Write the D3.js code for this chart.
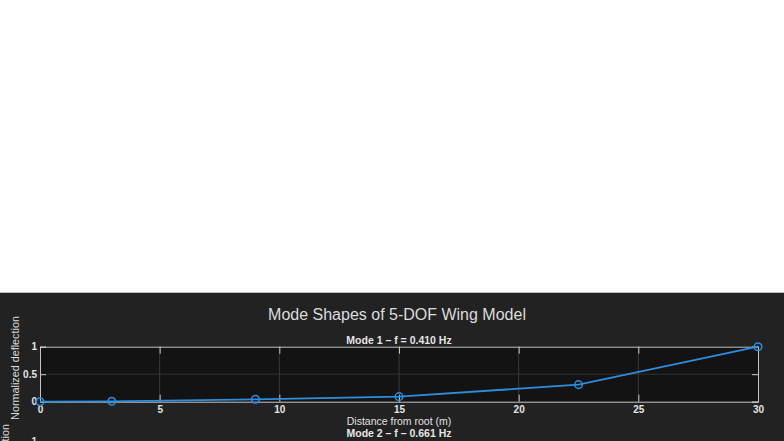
<!DOCTYPE html>
<html>
<head>
<meta charset="utf-8">
<script src="https://cdn.jsdelivr.net/npm/d3@7"></script>
<style>
  html, body { margin: 0; padding: 0; background: #ffffff; }
  svg { display: block; font-family: "Liberation Sans", Arial, sans-serif; }
</style>
</head>
<body>
<svg id="chart" width="784" height="441"></svg>
<script>
// Données
const nodePositions = [0, 3, 9, 15, 22.5, 30];
const mode1Deflection = [0, 0.007, 0.044, 0.092, 0.31, 1];
const xTicks = [0, 5, 10, 15, 20, 25, 30];
const yTicks = [0, 0.5, 1];
const chartTitle = "Mode Shapes of 5-DOF Wing Model";
const mode1Title = "Mode 1 – f = 0.410 Hz";
const mode2Title = "Mode 2 – f – 0.661 Hz";

const svg = d3.select("#chart");
const W = 784, H = 441;
const figTop = 293;

// Fond de la figure (sombre)
svg.append("rect").attr("x", 0).attr("y", figTop - 1).attr("width", W).attr("height", 1).attr("fill", "#bdbdbd");
svg.append("rect").attr("x", 0).attr("y", figTop).attr("width", W).attr("height", H - figTop).attr("fill", "#222222");

const ax = { left: 40, right: 758, top: 346.7, bottom: 401.7 };

const x = d3.scaleLinear().domain([0, 30]).range([ax.left, ax.right]);
const y = d3.scaleLinear().domain([0, 1]).range([ax.bottom, ax.top]);

// Titre général
svg.append("text")
    .attr("x", 397).attr("y", 319.5)
    .attr("text-anchor", "middle")
    .attr("font-size", 16)
    .attr("fill", "#dcdcdc")
    .text(chartTitle);

// Titre du mode 1
svg.append("text")
    .attr("x", 399).attr("y", 343.5)
    .attr("text-anchor", "middle")
    .attr("font-size", 10.5)
    .attr("font-weight", "bold")
    .attr("fill", "#e6e6e6")
    .text(mode1Title);

// Zone du graphique
svg.append("rect")
    .attr("x", ax.left).attr("y", ax.top)
    .attr("width", ax.right - ax.left).attr("height", ax.bottom - ax.top)
    .attr("fill", "#131313");

// Grille
const grid = svg.append("g");
grid.selectAll("line.gx")
    .data(xTicks.slice(1, -1))
    .enter().append("line")
    .attr("x1", d => x(d)).attr("x2", d => x(d))
    .attr("y1", ax.top).attr("y2", ax.bottom)
    .attr("stroke", "#444444").attr("stroke-width", 0.8);
grid.selectAll("line.gy")
    .data(yTicks.slice(1, -1))
    .enter().append("line")
    .attr("x1", ax.left).attr("x2", ax.right)
    .attr("y1", d => y(d)).attr("y2", d => y(d))
    .attr("stroke", "#3a3a3a").attr("stroke-width", 0.8);

// Axes avec graduations vers l'intérieur
const tickColor = "#c8c8c8";
const xAxisBottom = d3.axisBottom(x).tickValues(xTicks).tickSize(-7).tickPadding(4);
const xAxisTop = d3.axisTop(x).tickValues(xTicks).tickSize(-7).tickFormat("");
const yAxisLeft = d3.axisLeft(y).tickValues(yTicks).tickSize(-6).tickPadding(3).tickFormat(d3.format("~g"));
const yAxisRight = d3.axisRight(y).tickValues(yTicks).tickSize(-6).tickFormat("");

function styleAxis(g) {
    g.select(".domain").attr("stroke", "#c4c4c4");
    g.selectAll(".tick line").attr("stroke", tickColor);
    g.selectAll(".tick text")
        .attr("fill", "#e4e4e4")
        .attr("font-size", 10)
        .attr("font-weight", "bold")
        .attr("font-family", "'Liberation Sans', Arial, sans-serif");
}

svg.append("g").attr("transform", `translate(0,${ax.bottom})`).call(xAxisBottom).call(styleAxis);
svg.append("g").attr("transform", `translate(0,${ax.top})`).call(xAxisTop).call(styleAxis);
svg.append("g").attr("transform", `translate(${ax.left},0)`).call(yAxisLeft).call(styleAxis);
svg.append("g").attr("transform", `translate(${ax.right},0)`).call(yAxisRight).call(styleAxis);

// Courbe du mode 1
const points = nodePositions.map((p, i) => ({ x: p, y: mode1Deflection[i] }));
const line = d3.line().x(d => x(d.x)).y(d => y(d.y));

svg.append("path")
    .datum(points)
    .attr("d", line)
    .attr("fill", "none")
    .attr("stroke", "#2c8ee0")
    .attr("stroke-width", 1.8);

svg.selectAll("circle.node")
    .data(points)
    .enter().append("circle")
    .attr("class", "node")
    .attr("cx", d => x(d.x))
    .attr("cy", d => y(d.y))
    .attr("r", 3.8)
    .attr("fill", "none")
    .attr("stroke", "#2c8ee0")
    .attr("stroke-width", 1.5);

// Étiquettes des axes
svg.append("text")
    .attr("x", 399).attr("y", 425)
    .attr("text-anchor", "middle")
    .attr("font-size", 10.5)
    .attr("fill", "#e0e0e0")
    .text("Distance from root (m)");

svg.append("text")
    .attr("transform", "translate(19,368) rotate(-90)")
    .attr("text-anchor", "middle")
    .attr("font-size", 10.8)
    .attr("fill", "#dcdcdc")
    .text("Normalized deflection");

// Début du second graphique (mode 2), coupé par le bas
svg.append("text")
    .attr("x", 399).attr("y", 437)
    .attr("text-anchor", "middle")
    .attr("font-size", 10.5)
    .attr("font-weight", "bold")
    .attr("fill", "#e6e6e6")
    .text(mode2Title);

svg.append("text")
    .attr("transform", "translate(9,476) rotate(-90)")
    .attr("text-anchor", "middle")
    .attr("font-size", 10.8)
    .attr("fill", "#dcdcdc")
    .text("Normalized deflection");

const ax2Top = 441.5;
svg.append("line")
    .attr("x1", ax.left).attr("x2", ax.right)
    .attr("y1", ax2Top).attr("y2", ax2Top)
    .attr("stroke", "#c4c4c4");
svg.append("text")
    .attr("x", 37).attr("y", ax2Top + 3.5)
    .attr("text-anchor", "end")
    .attr("font-size", 10)
    .attr("font-weight", "bold")
    .attr("fill", "#e4e4e4")
    .text("1");
</script>
</body>
</html>
